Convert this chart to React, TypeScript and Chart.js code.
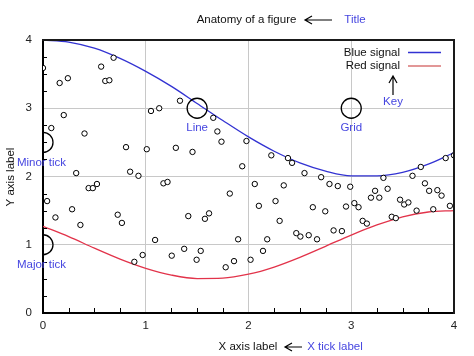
import React, { useEffect, useRef } from "react";
import { Chart, registerables } from "chart.js";

Chart.register(...registerables);

// ---- data ----
const curveX = [0, 0.25, 0.5, 0.75, 1, 1.25, 1.5, 1.75, 2, 2.25, 2.5, 2.75, 3, 3.25, 3.5, 3.75, 4];
const blueSignal = [4.0, 3.97, 3.88, 3.73, 3.54, 3.32, 3.07, 2.82, 2.58, 2.37, 2.2, 2.08, 2.01, 2.01, 2.06, 2.18, 2.35];
const redSignal = [1.27, 1.12, 0.95, 0.79, 0.655, 0.556, 0.505, 0.51, 0.568, 0.673, 0.815, 0.977, 1.142, 1.29, 1.41, 1.48, 1.5];

const scatterX = [
  0, 0.04, 0.081, 0.121, 0.162, 0.202, 0.242, 0.283, 0.323, 0.364,
  0.404, 0.444, 0.485, 0.525, 0.566, 0.606, 0.646, 0.687, 0.727, 0.768,
  0.808, 0.848, 0.889, 0.929, 0.97, 1.01, 1.051, 1.091, 1.131, 1.172,
  1.212, 1.253, 1.293, 1.333, 1.374, 1.414, 1.455, 1.495, 1.535, 1.576,
  1.616, 1.657, 1.697, 1.737, 1.778, 1.818, 1.859, 1.899, 1.939, 1.98,
  2.02, 2.061, 2.101, 2.141, 2.182, 2.222, 2.263, 2.303, 2.343, 2.384,
  2.424, 2.465, 2.505, 2.545, 2.586, 2.626, 2.667, 2.707, 2.747, 2.788,
  2.828, 2.869, 2.909, 2.949, 2.99, 3.03, 3.071, 3.111, 3.152, 3.192,
  3.232, 3.273, 3.313, 3.354, 3.394, 3.434, 3.475, 3.515, 3.556, 3.596,
  3.636, 3.677, 3.717, 3.758, 3.798, 3.838, 3.879, 3.919, 3.96, 4.0,
];
const scatterY = [
  3.59, 1.64, 2.71, 1.40, 3.37, 2.90, 3.44, 1.52, 2.05, 1.29,
  2.63, 1.83, 1.83, 1.89, 3.61, 3.40, 3.41, 3.74, 1.44, 1.32,
  2.43, 2.07, 0.75, 2.01, 0.85, 2.40, 2.96, 1.07, 3.00, 1.90,
  1.92, 0.84, 2.42, 3.11, 0.94, 1.42, 2.36, 0.78, 0.91, 1.38,
  1.46, 2.86, 2.66, 2.51, 0.67, 1.75, 0.76, 1.08, 2.15, 2.52,
  0.78, 1.89, 1.57, 0.91, 1.08, 2.31, 1.64, 1.35, 1.87, 2.27,
  2.20, 1.17, 1.12, 2.05, 1.14, 1.55, 1.08, 1.99, 1.49, 1.89,
  1.21, 1.86, 1.20, 1.56, 1.85, 1.61, 1.55, 1.35, 1.31, 1.69,
  1.79, 1.69, 1.98, 1.82, 1.41, 1.39, 1.66, 1.59, 1.62, 2.01,
  1.50, 2.14, 1.90, 1.79, 1.52, 1.80, 1.72, 2.27, 1.57, 2.31,
];

const minorTicks = [0.25, 0.5, 0.75, 1.25, 1.5, 1.75, 2.25, 2.5, 2.75, 3.25, 3.5, 3.75];
const seriesNames = ["Blue signal", "Red signal"];
const titleText = "Anatomy of a figure";
const xAxisLabel = "X axis label";
const yAxisLabel = "Y axis label";

// annotation markers (data coordinates)
const markerNames = ["Line", "Grid", "Minor tick", "Major tick"];
const markerX = [1.5, 3, 0, 0];
const markerY = [3, 3, 2.5, 1];

const FONT = '"Liberation Sans", Arial, sans-serif';
const BLUE_TXT = "#4646e0";
const BLUE_LINE = "#3232d2";
const RED_LINE = "#e2334a";

function arrowLeft(ctx: CanvasRenderingContext2D, x1: number, x2: number, y: number) {
  ctx.beginPath();
  ctx.moveTo(x1, y);
  ctx.lineTo(x2, y);
  ctx.moveTo(x1 + 7, y - 4);
  ctx.lineTo(x1, y);
  ctx.lineTo(x1 + 7, y + 4);
  ctx.stroke();
}

const anatomyPlugin = {
  id: "anatomy",
  afterDatasetsDraw(chart: any) {
    const ctx: CanvasRenderingContext2D = chart.ctx;
    const { left, right, top, bottom } = chart.chartArea;
    const xs = chart.scales.x;
    const ys = chart.scales.y;
    ctx.save();

    // minor ticks (inward)
    ctx.strokeStyle = "#000";
    ctx.lineWidth = 1;
    ctx.beginPath();
    for (const v of minorTicks) {
      const px = Math.round(xs.getPixelForValue(v)) + 0.5;
      ctx.moveTo(px, bottom);
      ctx.lineTo(px, bottom - 5);
      const py = Math.round(ys.getPixelForValue(v)) + 0.5;
      ctx.moveTo(left, py);
      ctx.lineTo(left + 4, py);
    }
    ctx.stroke();

    // frame top/right
    ctx.strokeStyle = "#1a1a1a";
    ctx.lineWidth = 2;
    ctx.beginPath();
    ctx.moveTo(left - 1, top);
    ctx.lineTo(right, top);
    ctx.lineTo(right, bottom + 1);
    ctx.stroke();

    // annotation circles, clipped to plot area
    ctx.save();
    ctx.beginPath();
    ctx.rect(left, top, right - left, bottom - top);
    ctx.clip();
    ctx.strokeStyle = "#000";
    ctx.lineWidth = 1.3;
    for (let i = 0; i < markerNames.length; i++) {
      const cx = xs.getPixelForValue(markerX[i]);
      const cy = ys.getPixelForValue(markerY[i]);
      ctx.beginPath();
      if (cx <= left + 1) {
        ctx.arc(cx, cy, 10, -Math.PI / 2, Math.PI / 2);
      } else {
        ctx.arc(cx, cy, 10, 0, Math.PI * 2);
      }
      ctx.stroke();
    }
    ctx.restore();

    // annotation texts
    ctx.font = `11.5px ${FONT}`;
    ctx.textAlign = "center";
    ctx.textBaseline = "middle";
    ctx.fillStyle = BLUE_TXT;
    for (let i = 0; i < markerNames.length; i++) {
      const px = xs.getPixelForValue(markerX[i]);
      const py = ys.getPixelForValue(markerY[i]);
      ctx.fillText(markerNames[i], i >= 2 ? px - 1.5 : px, py + 20);
    }

    // legend (key)
    ctx.textAlign = "right";
    ctx.fillStyle = "#111";
    ctx.fillText(seriesNames[0], 400, 52.5);
    ctx.fillText(seriesNames[1], 400, 66);
    ctx.lineWidth = 1.3;
    ctx.strokeStyle = BLUE_LINE;
    ctx.beginPath();
    ctx.moveTo(408, 52.5);
    ctx.lineTo(441, 52.5);
    ctx.stroke();
    ctx.strokeStyle = "#d87474";
    ctx.beginPath();
    ctx.moveTo(408, 66);
    ctx.lineTo(441, 66);
    ctx.stroke();

    // key arrow + label
    ctx.strokeStyle = "#000";
    ctx.lineWidth = 1.2;
    ctx.beginPath();
    ctx.moveTo(393, 95);
    ctx.lineTo(393, 76);
    ctx.moveTo(389, 83);
    ctx.lineTo(393, 76);
    ctx.lineTo(397, 83);
    ctx.stroke();
    ctx.textAlign = "center";
    ctx.fillStyle = BLUE_TXT;
    ctx.fillText("Key", 393, 101.5);

    // title + arrow
    ctx.fillStyle = "#111";
    ctx.fillText(titleText, 246.5, 20);
    arrowLeft(ctx, 305, 332, 20);
    ctx.fillStyle = BLUE_TXT;
    ctx.fillText("Title", 355, 20);

    // x axis label + arrow
    ctx.fillStyle = "#111";
    ctx.fillText(xAxisLabel, 248, 347);
    arrowLeft(ctx, 285, 302, 347);
    ctx.fillStyle = BLUE_TXT;
    ctx.fillText("X tick label", 335, 347);

    // y axis label
    ctx.save();
    ctx.translate(10.5, 177);
    ctx.rotate(-Math.PI / 2);
    ctx.fillStyle = "#111";
    ctx.fillText(yAxisLabel, 0, 0);
    ctx.restore();

    ctx.restore();
  },
};

export default function App() {
  const canvasRef = useRef<HTMLCanvasElement | null>(null);

  useEffect(() => {
    const canvas = canvasRef.current;
    if (!canvas) return;
    const chart = new Chart(canvas, {
      type: "scatter",
      data: {
        datasets: [
          {
            type: "scatter",
            label: "points",
            data: scatterX.map((x, i) => ({ x, y: scatterY[i] })),
            pointRadius: 2.7,
            pointBorderWidth: 1,
            pointBorderColor: "#000",
            pointBackgroundColor: "#fff",
            order: 0,
          } as any,
          {
            type: "line",
            label: seriesNames[0],
            data: curveX.map((x, i) => ({ x, y: blueSignal[i] })),
            borderColor: BLUE_LINE,
            borderWidth: 1.3,
            pointRadius: 0,
            fill: false,
            cubicInterpolationMode: "monotone",
            order: 1,
          } as any,
          {
            type: "line",
            label: seriesNames[1],
            data: curveX.map((x, i) => ({ x, y: redSignal[i] })),
            borderColor: RED_LINE,
            borderWidth: 1.3,
            pointRadius: 0,
            fill: false,
            cubicInterpolationMode: "monotone",
            order: 2,
          } as any,
        ],
      },
      options: {
        animation: false,
        responsive: false,
        devicePixelRatio: 1,
        layout: { padding: { top: 40, right: 20, left: 0, bottom: 0 } },
        plugins: {
          legend: { display: false },
          tooltip: { enabled: false },
          title: { display: false },
        },
        scales: {
          x: {
            type: "linear",
            min: 0,
            max: 4,
            afterFit: (s: any) => {
              s.height = 43;
            },
            ticks: {
              stepSize: 1,
              padding: 6,
              color: "#222",
              font: { family: FONT, size: 11.5 },
            },
            grid: { color: "#c8c8c8", lineWidth: 1, drawTicks: false },
            border: { display: true, color: "#000", width: 2 },
          },
          y: {
            type: "linear",
            min: 0,
            max: 4,
            afterFit: (s: any) => {
              s.width = 43;
            },
            ticks: {
              stepSize: 1,
              padding: 11,
              color: "#222",
              font: { family: FONT, size: 11.5 },
            },
            grid: { color: "#c8c8c8", lineWidth: 1, drawTicks: false },
            border: { display: true, color: "#000", width: 2 },
          },
        },
      },
      plugins: [anatomyPlugin],
    });
    return () => chart.destroy();
  }, []);

  return (
    <div style={{ position: "fixed", left: 0, top: 0, width: 474, height: 356, background: "#fff" }}>
      <canvas ref={canvasRef} width={474} height={356} style={{ width: 474, height: 356, display: "block" }} />
    </div>
  );
}
